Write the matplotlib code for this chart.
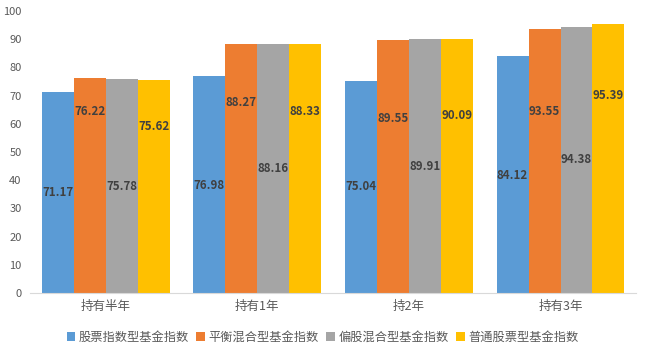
import numpy as np
import matplotlib
matplotlib.use('Agg')
import matplotlib.pyplot as plt

plt.rcParams['font.family'] = ['Noto Sans CJK SC', 'DejaVu Sans']

# Data

categories = ['持有半年', '持有1年', '持2年', '持有3年']
series_names = ['股票指数型基金指数', '平衡混合型基金指数', '偏股混合型基金指数', '普通股票型基金指数']
values = [
    [71.17, 76.98, 75.04, 84.12],
    [76.22, 88.27, 89.55, 93.55],
    [75.78, 88.16, 89.91, 94.38],
    [75.62, 88.33, 90.09, 95.39],
]
# where the value label sits on each bar (y in data units)
label_y = [
    [35.5, 38.3, 37.6, 41.8],
    [64.5, 67.4, 61.7, 64.5],
    [37.6, 44.0, 44.7, 47.2],
    [59.2, 64.5, 62.8, 69.9],
]
colors = ['#5B9BD5', '#ED7D31', '#A5A5A5', '#FFC000']

# Plot

fig = plt.figure(figsize=(6.45, 3.51), dpi=100)
ax = fig.add_axes([0.0465, 0.165, 0.94, 0.804])

x = np.arange(len(categories))
width = 0.211

for i in range(len(series_names)):
    pos = x + (i - 1.5) * width
    ax.bar(pos, values[i], width, color=colors[i], label=series_names[i])
    for j in range(len(categories)):
        ax.text(pos[j], label_y[i][j], f'{values[i][j]:.2f}', ha='center', va='center',
                fontsize=8.3, fontweight='bold', color='#404040')

ax.set_xlim(-0.5, len(categories) - 0.5)
ax.set_ylim(0, 100)
ax.set_yticks(range(0, 101, 10))
ax.set_xticks(x)
ax.set_xticklabels(categories, fontsize=9, color='#595959')
ax.tick_params(axis='y', labelsize=8, colors='#595959', length=0, pad=6)
ax.tick_params(axis='x', length=0, pad=5)

for side in ['top', 'right', 'left']:
    ax.spines[side].set_visible(False)
ax.spines['bottom'].set_color('#D9D9D9')

fig.legend(loc='lower center', bbox_to_anchor=(0.5, -0.01), ncol=4, frameon=False,
           fontsize=8.8, handlelength=0.7, handleheight=0.7, handletextpad=0.3,
           columnspacing=0.6, labelcolor='#595959')

fig.savefig('out.png', dpi=100)
